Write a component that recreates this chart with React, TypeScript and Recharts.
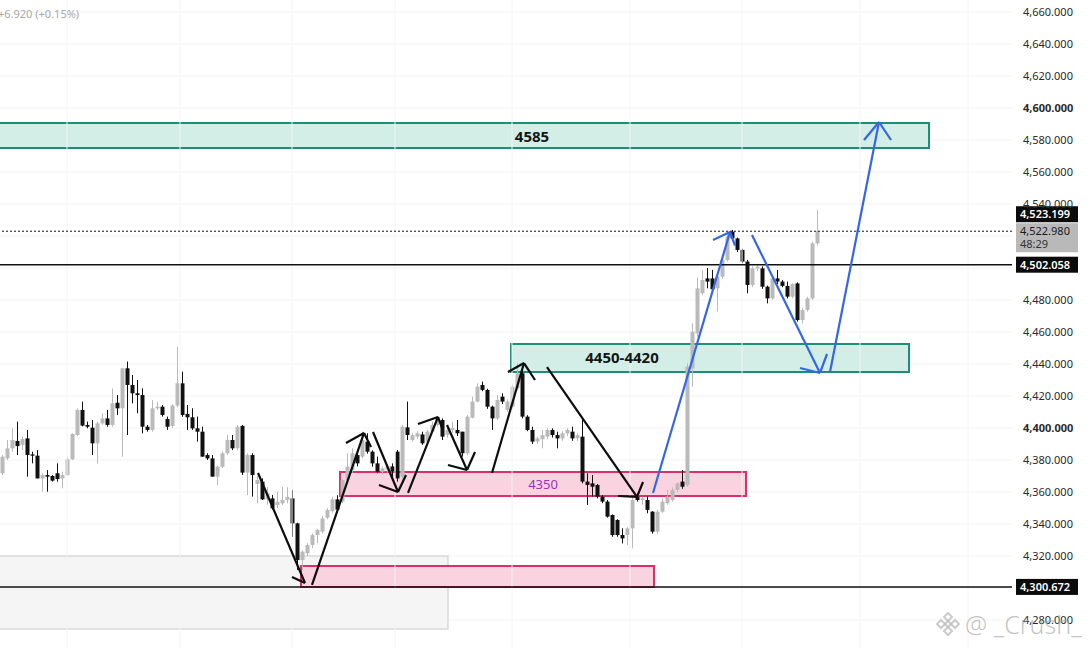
import React from 'react';
import { ComposedChart, Bar, XAxis, YAxis, CartesianGrid, ReferenceLine, ReferenceArea, ReferenceDot } from 'recharts';

const opens = [4371.7,4381.0,4387.3,4391.9,4389.4,4393.5,4383.5,4382.7,4368.5,4370.6,4370.0,4371.7,4368.5,4370.6,4380.4,4395.6,4411.3,4401.9,4400.2,4390.4,4402.9,4406.0,4401.9,4415.8,4412.3,4437.3,4426.9,4421.7,4420.6,4400.8,4398.8,4412.3,4413.3,4405.6,4401.3,4414.0,4427.9,4408.8,4406.7,4399.8,4397.7,4383.1,4381.0,4369.6,4375.8,4384.2,4392.5,4387.3,4401.3,4372.1,4383.1,4365.0,4366.5,4355.4,4356.0,4351.9,4352.9,4355.0,4356.0,4340.4,4317.5,4321.7,4326.9,4333.1,4335.2,4344.0,4348.0,4355.4,4354.0,4367.5,4373.8,4383.1,4382.1,4391.5,4385.2,4377.9,4372.7,4374.0,4376.0,4385.2,4369.6,4400.4,4392.5,4394.6,4396.0,4391.5,4397.7,4401.9,4405.0,4395.6,4398.8,4398.8,4397.7,4384.2,4406.5,4416.5,4426.9,4423.8,4413.3,4406.0,4419.6,4411.3,4413.3,4424.8,4434.2,4407.1,4398.8,4391.5,4393.0,4394.6,4398.8,4395.6,4393.5,4396.7,4397.7,4393.5,4394.6,4366.5,4365.4,4364.4,4357.1,4354.0,4345.6,4342.5,4333.1,4333.1,4337.3,4357.1,4355.0,4355.0,4347.7,4335.2,4347.7,4353.0,4355.0,4361.3,4366.5,4364.4,4437.3,4459.2,4484.2,4493.5,4493.5,4487.3,4494.6,4505.0,4522.7,4518.5,4511.3,4504.0,4489.4,4499.8,4499.8,4488.3,4481.0,4493.5,4491.5,4488.8,4482.1,4490.4,4467.5,4473.8,4481.0,4515.4];
const highs = [4383.1,4392.5,4399.8,4404.0,4394.6,4398.8,4385.2,4386.2,4371.7,4373.7,4370.6,4377.9,4372.7,4382.1,4396.7,4412.3,4416.5,4404.0,4405.0,4404.0,4409.2,4411.3,4424.8,4420.6,4437.3,4441.5,4433.1,4430.0,4424.8,4401.9,4417.5,4416.5,4414.4,4407.1,4415.0,4450.8,4435.2,4414.4,4412.3,4407.1,4400.8,4384.2,4383.1,4376.5,4385.2,4395.6,4395.6,4401.9,4401.9,4384.2,4384.2,4370.0,4368.5,4363.3,4358.1,4360.2,4363.3,4363.0,4361.3,4340.8,4323.5,4328.0,4334.0,4337.0,4345.0,4350.0,4357.0,4358.0,4368.0,4384.2,4387.3,4386.2,4397.7,4396.7,4386.0,4382.1,4376.0,4377.0,4377.9,4386.2,4401.9,4416.5,4397.0,4398.0,4397.7,4399.0,4404.0,4407.1,4406.0,4400.0,4404.0,4405.0,4397.7,4408.1,4419.6,4427.9,4429.0,4424.5,4414.0,4420.6,4421.7,4418.0,4427.0,4440.4,4438.3,4408.0,4400.8,4394.6,4398.8,4400.0,4399.8,4397.7,4398.0,4399.8,4400.8,4397.0,4406.0,4371.7,4370.6,4365.0,4358.0,4355.0,4346.0,4343.0,4337.3,4338.0,4357.0,4359.2,4357.0,4357.1,4348.0,4349.0,4356.0,4361.3,4363.0,4366.0,4373.7,4440.4,4465.4,4494.0,4498.8,4500.0,4498.8,4496.0,4506.0,4522.7,4523.8,4519.0,4512.0,4505.0,4501.0,4502.0,4501.0,4489.0,4495.6,4498.8,4492.5,4491.5,4490.4,4491.0,4475.0,4482.0,4516.5,4536.3];
const lows = [4370.6,4380.0,4385.2,4383.1,4386.2,4369.6,4377.9,4368.5,4360.2,4360.2,4366.5,4366.5,4362.3,4370.0,4380.0,4395.0,4401.0,4399.8,4383.1,4377.9,4402.0,4400.8,4400.8,4408.1,4382.1,4395.6,4415.4,4409.2,4396.7,4397.7,4397.7,4411.3,4407.1,4398.8,4400.0,4413.0,4407.0,4398.8,4398.8,4391.5,4382.0,4380.0,4369.6,4364.4,4375.0,4383.0,4386.2,4386.0,4370.6,4358.1,4357.1,4352.9,4355.0,4351.9,4349.0,4350.0,4351.9,4353.0,4332.0,4311.3,4311.0,4320.0,4325.0,4328.0,4334.0,4343.0,4347.0,4347.0,4353.0,4366.0,4372.0,4376.0,4381.0,4384.0,4375.8,4371.7,4371.0,4372.0,4367.5,4366.5,4368.0,4392.5,4391.5,4393.0,4389.4,4390.0,4397.0,4401.0,4392.5,4394.0,4397.0,4395.0,4382.1,4383.0,4406.0,4416.0,4423.0,4412.0,4398.8,4405.0,4415.0,4410.0,4412.0,4424.0,4406.0,4398.0,4390.0,4390.0,4387.3,4393.0,4394.0,4387.3,4392.0,4395.0,4392.0,4392.0,4365.4,4351.9,4357.1,4356.0,4353.0,4344.0,4332.0,4332.0,4327.9,4326.9,4324.8,4354.0,4352.0,4346.7,4334.0,4334.0,4347.0,4352.0,4354.0,4360.0,4362.0,4363.3,4425.8,4457.0,4483.0,4487.3,4484.2,4472.7,4493.0,4504.0,4517.0,4510.0,4503.0,4484.2,4488.0,4498.0,4487.0,4477.9,4480.0,4490.0,4488.0,4481.0,4481.0,4466.5,4465.4,4472.7,4480.0,4514.0];
const closes = [4382.1,4387.3,4392.5,4388.7,4393.1,4383.1,4382.7,4368.5,4370.6,4369.6,4367.1,4368.1,4370.6,4380.4,4396.3,4411.3,4401.5,4400.8,4390.4,4402.9,4406.0,4401.9,4415.4,4412.3,4437.3,4426.9,4421.7,4420.6,4400.8,4398.8,4412.3,4413.3,4408.1,4400.8,4414.0,4427.9,4408.1,4406.7,4399.8,4397.7,4382.1,4381.0,4369.6,4375.8,4384.2,4392.5,4387.3,4400.8,4372.1,4383.1,4370.6,4367.5,4355.4,4359.2,4349.8,4353.9,4355.0,4357.0,4340.4,4317.5,4322.7,4326.9,4333.1,4336.3,4343.5,4348.8,4355.4,4349.0,4367.5,4375.8,4384.2,4377.9,4392.5,4385.2,4377.9,4372.7,4374.8,4376.0,4373.0,4368.5,4400.8,4395.6,4395.6,4396.7,4390.4,4397.7,4401.9,4406.0,4394.6,4398.8,4400.0,4396.7,4384.2,4407.1,4416.5,4425.8,4423.8,4413.3,4406.0,4417.5,4416.5,4416.5,4425.8,4434.2,4407.1,4398.8,4391.5,4393.5,4395.6,4398.8,4395.6,4393.5,4396.7,4398.8,4393.5,4395.6,4366.5,4364.4,4363.3,4357.1,4354.0,4344.6,4333.1,4333.1,4331.0,4337.3,4355.0,4355.0,4356.0,4348.8,4335.2,4347.7,4354.0,4357.1,4361.3,4365.4,4363.3,4438.3,4460.2,4487.3,4492.5,4491.5,4486.7,4494.6,4505.0,4519.6,4518.5,4511.3,4504.0,4489.4,4499.8,4500.8,4488.3,4481.0,4493.5,4491.5,4488.8,4482.1,4490.0,4467.5,4473.8,4481.0,4515.4,4522.98];

// 4300, 4500 and 4520 are hidden behind the price labels in the reference
const yTicks = [4280, 4320, 4340, 4360, 4380, 4400, 4420, 4440, 4460, 4480, 4540, 4560, 4580, 4600, 4620, 4640, 4660];
const gridTicks = [4280, 4300, 4320, 4340, 4360, 4380, 4400, 4420, 4440, 4460, 4480, 4500, 4520, 4540, 4560, 4580, 4600, 4620, 4640, 4660];
const boldTicks = [4400, 4600];
const timeGridX = [12.8, 35.4, 57.8, 78.4, 101.8, 125.4, 147.8, 171.4, 193];

// zones: [x1, x2, y1, y2]
const grayZone = [-2, 89, 4274.4, 4320];
const tealUpperZone = [-2, 185.2, 4575, 4590.6];
const tealMidZone = [101.6, 181.2, 4435, 4452.5];
const pinkMidZone = [67.4, 148.6, 4357.5, 4372.5];
const pinkLowZone = [59.6, 130.2, 4300.6, 4313.8];

// zone labels: [x, price, text]
const zoneLabels: [number, number, string][] = [
  [105.8, 4582.2, '4585'],
  [123.8, 4444.0, '4450-4420'],
];
const pinkLabel: [number, number, string] = [108, 4364.6, '4350'];

// arrow segments: [x1, p1, x2, p2]
const blackSegs = [
  [51, 4371.9, 60.4, 4303.1],
  [57.8, 4306.9, 60.4, 4303.1],
  [61.8, 4301.9, 72.2, 4396.9],
  [68.6, 4390.6, 72.2, 4396.9],
  [72.2, 4396.9, 73.6, 4388.1],
  [74, 4397.5, 79, 4360],
  [75.2, 4364.4, 79, 4360],
  [79, 4360, 80.6, 4370.6],
  [81, 4359.4, 87, 4406.9],
  [83, 4402.5, 87, 4406.9],
  [87, 4406.9, 87.8, 4400],
  [88.8, 4401.9, 92.8, 4373.75],
  [89, 4376.9, 92.8, 4373.75],
  [92.8, 4373.75, 94.4, 4385],
  [97.8, 4371.9, 104.2, 4440.6],
  [101, 4435, 104.2, 4440.6],
  [104.2, 4440.6, 106.4, 4430],
  [108.8, 4438.1, 126.8, 4356.9],
  [123, 4357.5, 126.8, 4356.9],
  [126.8, 4356.9, 128, 4366.25],
];
const blueSegs = [
  [130, 4359.4, 145.4, 4522.5],
  [142, 4517.5, 145.4, 4522.5],
  [145.4, 4522.5, 146.4, 4514],
  [149.8, 4520.6, 163.4, 4434.4],
  [159.4, 4437.5, 163.4, 4434.4],
  [163.4, 4434.4, 164.8, 4446.25],
  [165.4, 4435, 175.2, 4591.25],
  [172.2, 4580, 175.2, 4591.25],
  [175.2, 4591.25, 177.6, 4580],
];

const currentPrice = 4522.98;
const highLabel = '4,523.199';
const currentLabel = '4,522.980';
const countdown = '48:29';
const solidLevels: [number, string][] = [
  [4502.058, '4,502.058'],
  [4300.672, '4,300.672'],
];
const changeText = '+6.920 (+0.15%)';

const rows = opens.map((o, i) => ({ i, o, h: highs[i], l: lows[i], c: closes[i], range: [lows[i], highs[i]] }));

const FONT = '"Noto Sans", "Open Sans", sans-serif';
const fmt = (v: number) => v.toLocaleString('en-US', { minimumFractionDigits: 3, maximumFractionDigits: 3 });

const Candle = (props: any) => {
  const { x, y, width, height, payload } = props;
  if (x == null || y == null) return null;
  const top = Math.min(y, y + height);
  const bot = Math.max(y, y + height);
  const span = payload.h - payload.l;
  const k = span > 0 ? (bot - top) / span : 0;
  const yO = top + (payload.h - payload.o) * k;
  const yC = top + (payload.h - payload.c) * k;
  const up = payload.c >= payload.o;
  const col = up ? '#bababa' : '#111111';
  const cx = x + width / 2;
  const bt = Math.min(yO, yC);
  const bh = Math.max(1, Math.abs(yO - yC));
  return (
    <g>
      <line x1={cx} x2={cx} y1={top} y2={bot} stroke={col} strokeWidth={1} />
      <rect x={x} y={bt} width={width} height={bh} fill={col} />
    </g>
  );
};

const YTick = (props: any) => {
  const { x, y, payload } = props;
  const bold = boldTicks.includes(payload.value);
  return (
    <text x={x + 3} y={y} dy={4} textAnchor="start" fontSize={11} fontFamily={FONT} fill="#2a2a2a" fontWeight={bold ? 700 : 400}>
      {fmt(payload.value)}
    </text>
  );
};

const boxLabel = (text: string) => (props: any) => {
  const vb = props.viewBox || {};
  const x = vb.x + vb.width + 4;
  const y = vb.y;
  return (
    <g>
      <rect x={x} y={y - 8} width={62} height={16} fill="#0b0b0b" />
      <text x={x + 4} y={y + 4} fontSize={11} fontFamily={FONT} fill="#ffffff" fontWeight={600}>{text}</text>
    </g>
  );
};

const currentLabelRender = (props: any) => {
  const vb = props.viewBox || {};
  const x = vb.x + vb.width + 4;
  const y = vb.y;
  return (
    <g>
      <rect x={x} y={y - 8} width={62} height={29} fill="#b9b9b9" />
      <text x={x + 4} y={y + 4} fontSize={11} fontFamily={FONT} fill="#1a1a1a">{currentLabel}</text>
      <text x={x + 4} y={y + 17} fontSize={11} fontFamily={FONT} fill="#333333">{countdown}</text>
      <rect x={x} y={y - 25} width={62} height={16} fill="#0b0b0b" />
      <text x={x + 4} y={y - 13} fontSize={11} fontFamily={FONT} fill="#ffffff" fontWeight={600}>{highLabel}</text>
    </g>
  );
};

export default function App() {
  return (
    <div style={{ position: 'fixed', left: 0, top: 0, width: 1089, height: 649, background: '#ffffff', overflow: 'hidden', fontFamily: FONT }}>
      <ComposedChart width={1089} height={649} data={rows} margin={{ top: 0, right: 0, bottom: 0, left: 0 }}>
        <CartesianGrid vertical={false} stroke="#f3f3f3" horizontalValues={gridTicks} />
        <XAxis type="number" dataKey="i" domain={[-0.6, 201.8]} hide allowDataOverflow />
        <YAxis orientation="right" domain={[4261.875, 4667.5]} ticks={yTicks} width={77} axisLine={false} tickLine={false} tick={<YTick />} allowDataOverflow interval={0} />
        {timeGridX.map((gx) => (
          <ReferenceLine key={'g' + gx} x={gx} stroke="#f4f4f4" strokeWidth={1} />
        ))}
        <ReferenceArea x1={grayZone[0]} x2={grayZone[1]} y1={grayZone[2]} y2={grayZone[3]} fill="#f5f5f5" fillOpacity={1} stroke="#d9d9d9" strokeWidth={1.5} ifOverflow="hidden" />
        <ReferenceArea x1={tealUpperZone[0]} x2={tealUpperZone[1]} y1={tealUpperZone[2]} y2={tealUpperZone[3]} fill="#d2eee7" fillOpacity={1} stroke="#1c8f78" strokeWidth={2} ifOverflow="hidden" />
        <ReferenceArea x1={tealMidZone[0]} x2={tealMidZone[1]} y1={tealMidZone[2]} y2={tealMidZone[3]} fill="#d2eee7" fillOpacity={1} stroke="#1c8f78" strokeWidth={2} ifOverflow="hidden" />
        <ReferenceArea x1={pinkMidZone[0]} x2={pinkMidZone[1]} y1={pinkMidZone[2]} y2={pinkMidZone[3]} fill="#f9d3e0" fillOpacity={1} stroke="#dc2f68" strokeWidth={2} ifOverflow="hidden" />
        <ReferenceArea x1={pinkLowZone[0]} x2={pinkLowZone[1]} y1={pinkLowZone[2]} y2={pinkLowZone[3]} fill="#f9d3e0" fillOpacity={1} stroke="#dc2f68" strokeWidth={2} ifOverflow="hidden" />
        <ReferenceLine y={currentPrice} stroke="#111" strokeDasharray="2 2" strokeWidth={1} label={currentLabelRender} />
        {solidLevels.map(([lv, txt]) => (
          <ReferenceLine key={'l' + lv} y={lv} stroke="#111" strokeWidth={1.5} label={boxLabel(txt)} />
        ))}
        <Bar dataKey="range" barSize={4} isAnimationActive={false} shape={<Candle />} />
        {blackSegs.map((s, k) => (
          <ReferenceLine key={'b' + k} segment={[{ x: s[0], y: s[1] }, { x: s[2], y: s[3] }]} stroke="#0d0d0d" strokeWidth={2.2} ifOverflow="visible" />
        ))}
        {blueSegs.map((s, k) => (
          <ReferenceLine key={'u' + k} segment={[{ x: s[0], y: s[1] }, { x: s[2], y: s[3] }]} stroke="#3566e6" strokeWidth={2.2} ifOverflow="visible" />
        ))}
        {zoneLabels.map(([zx, zp, t]) => (
          <ReferenceDot key={t} x={zx} y={zp} r={1} fill="none" stroke="none" label={{ value: t, position: 'center', fill: '#151515', fontSize: 15, fontWeight: 700, fontFamily: FONT }} />
        ))}
        <ReferenceDot x={pinkLabel[0]} y={pinkLabel[1]} r={1} fill="none" stroke="none" label={{ value: pinkLabel[2], position: 'center', fill: '#a02fb5', fontSize: 13, fontFamily: FONT }} />
      </ComposedChart>
      <div style={{ position: 'absolute', left: -2, top: 6, fontSize: 11, color: '#a8a8a8', fontFamily: FONT, whiteSpace: 'nowrap' }}>{changeText}</div>
      <div style={{ position: 'absolute', left: 934, top: 610, display: 'flex', alignItems: 'center', color: 'rgba(170,170,170,0.7)', fontFamily: FONT, whiteSpace: 'nowrap' }}>
        <svg width={28} height={28} viewBox="0 0 28 28">
          <g fill="none" stroke="rgba(190,190,190,0.8)" strokeWidth={2}>
            <path d="M14 3 L18 7 L14 11 L10 7 Z" />
            <path d="M7 10 L11 14 L7 18 L3 14 Z" />
            <path d="M21 10 L25 14 L21 18 L17 14 Z" />
            <path d="M14 17 L18 21 L14 25 L10 21 Z" />
            <path d="M14 11 L17 14 L14 17 L11 14 Z" />
          </g>
        </svg>
        <span style={{ fontSize: 25, marginLeft: 3, fontWeight: 300, lineHeight: '28px' }}>@ _Crush_</span>
      </div>
    </div>
  );
}
